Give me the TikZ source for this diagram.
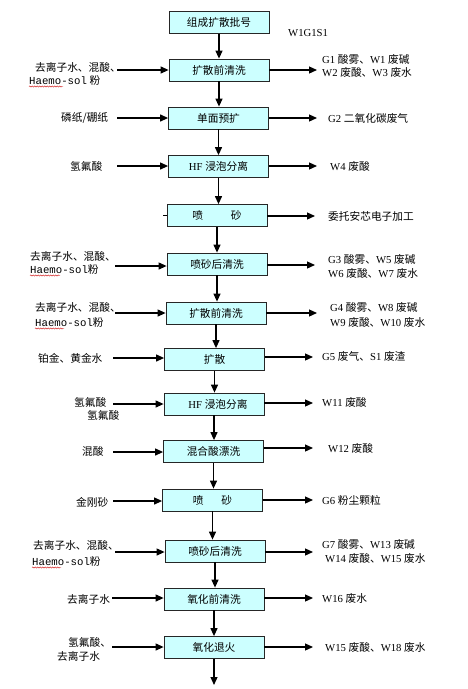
\documentclass[tikz,border=0pt]{standalone}
\usepackage{fontspec}
\setmainfont{Liberation Serif}
\newfontfamily\zhfont{Noto Sans CJK SC}
\newfontfamily\hmfont{Liberation Mono}
\usetikzlibrary{arrows.meta,decorations.pathmorphing}
\newcommand\zhs[1]{{\zhfont #1}}
\newcommand\hm[1]{{\hmfont #1}}
\newcommand\fs{\fontsize{10.7}{12}\selectfont}
\definecolor{cyanbox}{HTML}{CCFFFF}
\tikzset{
 procbox/.style={draw=black!85, line width=0.8pt, fill=cyanbox, minimum width=100pt, minimum height=22pt, inner sep=0pt, font=\fs},
 arr/.style={line width=1.2pt, -{Triangle[length=8pt,width=7pt]}},
 lbl/.style={anchor=west, inner sep=0pt, font=\fs},
 wavy/.style={red!80!black, line width=0.4pt, decorate, decoration={snake, amplitude=0.6pt, segment length=2.5pt}}
}
\begin{document}
\begin{tikzpicture}[x=1pt,y=-1pt]
\useasboundingbox[fill=white] (0,0) rectangle (468,689);
% boxes
\node[procbox] (b1) at (219,22.5) {\zhs{组成扩散批号}};
\node[procbox] (b2) at (219,70) {\zhs{扩散前清洗}};
\node[procbox] (b3) at (218.5,118) {\zhs{单面预扩}};
\node[procbox] (b4) at (218.5,166.5) {HF \zhs{浸泡分离}};
\node[procbox] (b5) at (217,215.5) {\zhs{喷\hspace{28pt}砂}};
\node[procbox] (b6) at (217,264) {\zhs{喷砂后清洗}};
\node[procbox] (b7) at (216,313) {\zhs{扩散前清洗}};
\node[procbox] (b8) at (214.5,359.5) {\zhs{扩散}};
\node[procbox] (b9) at (214,404) {\hspace{8pt}HF \zhs{浸泡分离}};
\node[procbox] (b10) at (213.5,451.5) {\zhs{混合酸漂洗}\hspace{6pt}};
\node[procbox] (b11) at (212.5,500) {\zhs{喷\hspace{18pt}砂}};
\node[procbox] (b12) at (215,551) {\zhs{喷砂后清洗}};
\node[procbox] (b13) at (214,599) {\zhs{氧化前清洗}};
\node[procbox] (b14) at (214,647.5) {\zhs{氧化退火}};
% vertical arrows
\foreach \a/\b in {b1/b2,b2/b3,b3/b4,b4/b5,b5/b6,b6/b7,b7/b8,b8/b9,b9/b10,b10/b11,b11/b12,b12/b13,b13/b14}
  \draw[arr] (\a.south) -- (\a.south |- \b.north);
\coordinate (fin) at (211,685);
\draw[arr] (b14.south) -- (b14.south |- fin);
% left input coordinates
\coordinate (l2) at (117,70);
\coordinate (l3) at (117,118);
\coordinate (l4) at (117,166);
\coordinate (l6) at (115,266);
\coordinate (l7) at (115,313);
\coordinate (l8) at (113,358);
\coordinate (l9) at (113,404);
\coordinate (l10) at (113,452);
\coordinate (l11) at (113,501);
\coordinate (l12) at (115,552);
\coordinate (l13) at (112,598);
\coordinate (l14) at (112,647);
\foreach \r in {2,3,4,6,7,8,9,10,11,12,13,14}
  \draw[arr] (l\r) -- (l\r -| b\r.west);
\coordinate (t5) at (163,215.5);
\draw[line width=0.8pt] (b5.west) -- (t5);
% right output coordinates
\coordinate (r2) at (317,70);
\coordinate (r3) at (317,118);
\coordinate (r4) at (317,166);
\coordinate (r5) at (315,216);
\coordinate (r6) at (315,265);
\coordinate (r7) at (317,313);
\coordinate (r8) at (313,357);
\coordinate (r9) at (313,403);
\coordinate (r10) at (313,448);
\coordinate (r11) at (313,500);
\coordinate (r12) at (313,552);
\coordinate (r13) at (313,598);
\coordinate (r14) at (313,647);
\foreach \r in {2,3,4,5,6,7,8,9,10,11,12,13,14}
  \draw[arr] (b\r.east |- r\r) -- (r\r);
% left labels
\node[lbl] (la2) at (35,67) {\zhs{去离子水、混酸、}};
\node[lbl] (lb2) at (29,80) {\hm{Haemo-sol} \zhs{粉}};
\node[lbl] (la3) at (61,118) {\zhs{磷纸/硼纸}};
\node[lbl] (la4) at (70,166) {\zhs{氢氟酸}};
\node[lbl] (la6) at (30,256) {\zhs{去离子水、混酸、}};
\node[lbl] (lb6) at (30,269) {\hm{Haemo-sol}\zhs{粉}};
\node[lbl] (la7) at (35,307) {\zhs{去离子水、混酸、}};
\node[lbl] (lb7) at (35,322) {\hm{Haemo-sol}\zhs{粉}};
\node[lbl] (la8) at (38,358) {\zhs{铂金、黄金水}};
\node[lbl] (la9) at (74,402) {\zhs{氢氟酸}};
\node[lbl] (lb9) at (87,415) {\zhs{氢氟酸}};
\node[lbl] (la10) at (82,451) {\zhs{混酸}};
\node[lbl] (la11) at (76,502) {\zhs{金刚砂}};
\node[lbl] (la12) at (33,545) {\zhs{去离子水、混酸、}};
\node[lbl] (lb12) at (32,561) {\hm{Haemo-sol}\zhs{粉}};
\node[lbl] (la13) at (67,599) {\zhs{去离子水}};
\node[lbl] (la14) at (68,642) {\zhs{氢氟酸、}};
\node[lbl] (lb14) at (57,656) {\zhs{去离子水}};
% spell-check underlines
\draw[wavy] (29,86.5) -- (63,86.5);
\draw[wavy] (30,275.5) -- (60,275.5);
\draw[wavy] (35,328.5) -- (64,328.5);
\draw[wavy] (32,567.5) -- (61,567.5);
% right labels
\node[lbl] (ra1) at (288,33) {W1G1S1};
\node[lbl] (ra2) at (322,59) {G1 \zhs{酸雾、}W1 \zhs{废碱}};
\node[lbl] (rb2) at (322,72) {W2 \zhs{废酸、}W3 \zhs{废水}};
\node[lbl] (ra3) at (328,118) {G2 \zhs{二氧化碳废气}};
\node[lbl] (ra4) at (330,166) {W4 \zhs{废酸}};
\node[lbl] (ra5) at (328,216) {\zhs{委托安芯电子加工}};
\node[lbl] (ra6) at (328,259) {G3 \zhs{酸雾、}W5 \zhs{废碱}};
\node[lbl] (rb6) at (328,273) {W6 \zhs{废酸、}W7 \zhs{废水}};
\node[lbl] (ra7) at (330,307) {G4 \zhs{酸雾、}W8 \zhs{废碱}};
\node[lbl] (rb7) at (330,322) {W9 \zhs{废酸、}W10 \zhs{废水}};
\node[lbl] (ra8) at (322,356) {G5 \zhs{废气、}S1 \zhs{废渣}};
\node[lbl] (ra9) at (322,402) {W11 \zhs{废酸}};
\node[lbl] (ra10) at (328,448) {W12 \zhs{废酸}};
\node[lbl] (ra11) at (322,500) {G6 \zhs{粉尘颗粒}};
\node[lbl] (ra12) at (322,544) {G7 \zhs{酸雾、}W13 \zhs{废碱}};
\node[lbl] (rb12) at (325,558) {W14 \zhs{废酸、}W15 \zhs{废水}};
\node[lbl] (ra13) at (322,598) {W16 \zhs{废水}};
\node[lbl] (ra14) at (325,647) {W15 \zhs{废酸、}W18 \zhs{废水}};
\end{tikzpicture}
\end{document}
